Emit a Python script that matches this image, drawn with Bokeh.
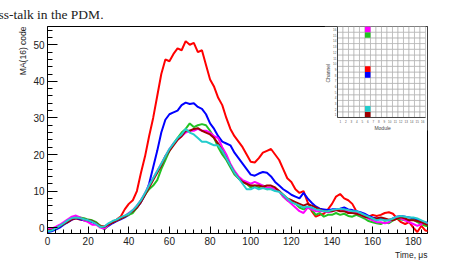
from bokeh.plotting import figure
from bokeh.models import Range1d, SingleIntervalTicker, Label, ColumnDataSource, Title
from bokeh.core.properties import value
from bokeh.embed import file_html
from bokeh.resources import INLINE

time_us = [0, 2, 4, 6, 8, 10, 12, 14, 16, 18,
           20, 22, 24, 26, 28, 30, 32, 34, 36, 38,
           40, 42, 44, 46, 48, 50, 52, 54, 56, 58,
           60, 62, 64, 66, 68, 70, 72, 74, 76, 78,
           80, 82, 84, 86, 88, 90, 92, 94, 96, 98,
           100, 102, 104, 106, 108, 110, 112, 114, 116, 118,
           120, 122, 124, 126, 128, 130, 132, 134, 136, 138,
           140, 142, 144, 146, 148, 150, 152, 154, 156, 158,
           160, 162, 164, 166, 168, 170, 172, 174, 176, 178,
           180, 182, 184, 186, 188]

ch9_red = [-0.5, -0.5, 0.0, 0.5, 1.2, 1.5, 2.2, 2.5, 2.2, 2.0,
           2.0, 1.8, 1.2, 0.5, 0.3, 1.0, 1.5, 2.2, 3.0, 5.0,
           6.5, 7.5, 10.0, 15.0, 19.5, 25.0, 30.0, 36.0, 42.0, 46.0,
           45.5, 47.5, 49.0, 48.5, 51.0, 50.0, 50.5, 48.0, 48.5, 44.5,
           40.5, 38.5, 35.5, 33.5, 30.0, 27.0, 25.0, 23.5, 22.0, 20.0,
           18.0, 17.8, 19.0, 20.5, 21.0, 21.5, 20.0, 18.5, 16.0, 13.5,
           12.5, 10.5, 9.5, 10.0, 7.0, 4.5, 3.0, 3.5, 3.8, 5.0,
           6.5, 8.5, 9.2, 8.0, 7.5, 6.5, 4.5, 3.8, 3.2, 3.0,
           3.5, 3.2, 3.5, 4.0, 4.2, 3.8, 2.5, 1.5, 1.0, 1.5,
           0.0, -1.2, 0.5, -0.8, -1.0]

ch8_blue = [-1.2, -1.0, -0.5, 0.0, 0.8, 1.5, 2.2, 2.6, 2.3, 2.0,
            1.8, 1.5, 1.0, 0.2, -0.2, 0.5, 1.2, 1.8, 2.3, 2.8,
            3.5, 4.5, 5.5, 7.0, 9.0, 12.0, 16.5, 21.0, 26.0, 29.5,
            31.0, 31.5, 32.0, 33.5, 34.2, 33.8, 34.0, 33.0, 32.5, 31.0,
            28.5, 27.0, 25.0, 23.5, 23.0, 22.5, 20.5, 19.0, 17.5, 16.0,
            14.5, 14.2, 14.8, 15.2, 15.0, 14.0, 12.5, 11.5, 10.5, 9.8,
            9.0, 8.5, 8.0, 9.5, 8.0, 6.8, 5.8, 5.2, 5.0, 4.8,
            5.0, 5.0, 5.2, 5.5, 5.0, 4.8, 4.5, 4.2, 3.8, 3.2,
            2.8, 2.5, 2.5, 2.2, 2.0, 2.5, 3.0, 3.2, 3.0, 2.8,
            2.5, 2.2, 1.8, 1.2, 1.5]

ch15_green = [-0.8, -0.5, 0.0, 0.5, 1.0, 1.8, 2.5, 2.8, 2.8, 2.6,
              2.2, 2.0, 1.5, 0.5, -0.5, 0.8, 1.5, 2.0, 2.5, 3.0,
              3.5, 4.0, 5.5, 7.5, 9.0, 10.5, 11.5, 13.0, 16.0, 18.5,
              21.0, 23.0, 24.5, 26.0, 27.0, 28.5, 27.5, 28.0, 28.3, 28.0,
              26.5, 24.5, 22.0, 20.0, 18.5, 16.5, 14.5, 13.5, 12.5, 12.0,
              11.0, 11.5, 11.0, 11.5, 10.5, 10.8, 10.2, 10.0, 8.5, 7.5,
              7.0, 6.5, 5.5, 5.0, 5.5, 5.0, 3.5, 4.0, 3.0, 3.5,
              3.5, 4.0, 3.5, 3.8, 3.2, 3.0, 3.5, 3.0, 2.5, 1.8,
              1.5, 1.2, 1.0, 1.5, 1.2, 2.0, 2.5, 2.2, 2.0, 2.0,
              2.2, 1.5, 1.0, 0.5, 0.3]

ch16_magenta = [-0.5, -0.3, 0.2, 0.8, 1.5, 2.3, 3.0, 3.3, 2.8, 2.0,
                1.5, 0.8, 0.8, 0.0, -0.3, 0.8, 1.5, 2.0, 2.6, 3.2,
                4.0, 4.8, 6.0, 7.5, 9.5, 11.5, 13.5, 15.5, 17.5, 19.5,
                21.5, 23.0, 24.0, 25.0, 26.0, 26.5, 26.5, 27.0, 26.5, 26.5,
                26.0, 25.0, 24.5, 22.0, 20.0, 17.5, 15.5, 14.0, 13.0, 12.5,
                12.0, 12.5, 12.0, 11.5, 11.0, 11.0, 10.5, 10.0, 8.5, 7.5,
                6.5, 5.5, 4.5, 4.0, 5.5, 5.0, 4.5, 4.5, 4.5, 4.2,
                4.5, 4.8, 5.0, 4.8, 4.5, 4.0, 4.0, 3.5, 3.0, 2.5,
                2.0, 1.5, 1.5, 1.2, 1.5, 2.5, 3.0, 2.5, 2.0, 1.5,
                1.0, 0.5, 1.0, 1.5, 1.0]

ch1_darkred = [-0.8, -0.6, -0.2, 0.4, 1.0, 1.6, 2.3, 2.7, 2.5, 2.3,
               2.0, 1.8, 1.2, 0.3, 0.2, 0.8, 1.4, 1.9, 2.5, 3.0,
               3.8, 4.5, 5.5, 7.0, 9.0, 11.0, 13.0, 15.0, 17.0, 19.5,
               21.0, 22.5, 24.0, 25.0, 26.5, 26.5, 27.0, 27.2, 26.5, 26.0,
               25.5, 24.5, 23.0, 21.0, 19.0, 17.0, 15.0, 13.5, 12.5, 12.0,
               11.5, 11.5, 11.5, 11.2, 11.5, 11.5, 11.0, 10.0, 9.0, 8.0,
               7.5, 7.0, 6.5, 6.0, 6.5, 6.0, 5.5, 5.0, 4.5, 4.5,
               4.5, 4.8, 4.5, 4.5, 4.0, 4.0, 3.8, 3.5, 3.0, 2.8,
               2.5, 2.5, 2.8, 2.5, 2.2, 2.0, 2.5, 2.8, 2.5, 2.0,
               2.0, 1.8, 1.5, 1.0, 0.5]

ch2_cyan = [-1.0, -0.8, -0.2, 0.5, 1.2, 2.0, 2.6, 2.8, 2.6, 2.3,
            2.0, 1.6, 1.0, 0.2, 0.3, 1.2, 1.8, 2.2, 2.8, 3.3,
            3.8, 4.8, 6.0, 7.5, 9.5, 11.5, 13.5, 15.5, 17.5, 19.5,
            21.5, 23.0, 24.5, 25.5, 27.0, 26.0, 25.5, 24.5, 23.5, 23.5,
            23.0, 22.5, 22.5, 21.0, 19.0, 17.0, 15.0, 13.5, 12.0, 10.5,
            10.5, 11.0, 10.5, 10.8, 10.5, 10.5, 10.0, 9.8, 9.0, 8.0,
            7.0, 6.5, 6.0, 5.5, 5.8, 5.5, 5.0, 4.8, 4.5, 4.5,
            4.8, 5.0, 5.2, 5.0, 4.8, 4.5, 4.5, 4.0, 3.5, 3.0,
            2.5, 2.0, 2.2, 2.0, 2.0, 2.5, 3.0, 3.2, 3.0, 2.8,
            2.8, 2.5, 2.0, 1.5, 1.0]

# (name, values, colour, module, channel) - module/channel shown in the inset map
series = [
    ("ch9", ch9_red, "#ff0000", 6, 9),
    ("ch8", ch8_blue, "#0000ff", 6, 8),
    ("ch15", ch15_green, "#22c322", 6, 15),
    ("ch16", ch16_magenta, "#ff00ff", 6, 16),
    ("ch1", ch1_darkred, "#a00000", 6, 1),
    ("ch2", ch2_cyan, "#22cccc", 6, 2),
]
modules = list(range(1, 17))
channels = list(range(1, 17))

x_ticks_interval = 20
y_ticks_interval = 10

p = figure(width=474, height=260, title=None,
           x_range=Range1d(0, 187), y_range=Range1d(-1.6, 55),
           output_backend="svg", toolbar_location=None,
           min_border_left=47, min_border_right=47,
           min_border_top=26, min_border_bottom=27,
           background_fill_color="white", border_fill_color="white")
p.extra_x_ranges = {"mod": Range1d(-52.227, 16.864)}
p.extra_y_ranges = {"ch": Range1d(-19.896, 16.5)}

p.xgrid.visible = False
p.ygrid.visible = False
p.outline_line_color = "black"
p.outline_line_width = 1

FONT = "Liberation Sans"
for ax in (p.xaxis[0], p.yaxis[0]):
    ax.axis_line_color = "black"
    ax.major_tick_line_color = "black"
    ax.minor_tick_line_color = "black"
    ax.major_tick_out = 0
    ax.minor_tick_out = 0
    ax.major_label_text_font = FONT
    ax.major_label_text_font_size = "10px"
    ax.major_label_text_color = "#222222"
p.xaxis.ticker = SingleIntervalTicker(interval=x_ticks_interval, num_minor_ticks=5)
p.yaxis.ticker = SingleIntervalTicker(interval=y_ticks_interval, num_minor_ticks=5)
p.xaxis.major_tick_in = 7
p.xaxis.minor_tick_in = 4
p.yaxis.major_tick_in = 10
p.yaxis.minor_tick_in = 5
p.xaxis.major_label_standoff = 3
p.yaxis.major_label_standoff = 3

for name, ys, col, m, c in series:
    src = ColumnDataSource(dict(t=time_us, v=ys))
    p.line("t", "v", source=src, line_color=col, line_width=2)

# inset: module/channel map
p.quad(left=[-1.8], right=[16.86], bottom=[-1.8], top=[16.5],
       fill_color="white", line_color=None, x_range_name="mod", y_range_name="ch")
gx = [m for m in modules for c in channels]
gy = [c for m in modules for c in channels]
p.rect(x=gx, y=gy, width=1, height=1, fill_color="white", line_color="#aaaaaa",
       line_width=0.6, x_range_name="mod", y_range_name="ch")
p.rect(x=[s[3] for s in series], y=[s[4] for s in series], width=1, height=1,
       fill_color=[s[2] for s in series], line_color=None,
       x_range_name="mod", y_range_name="ch")
p.segment(x0=[0.5, 0.5], y0=[0.5, 0.5], x1=[16.5, 0.5], y1=[0.5, 16.5],
          line_color="#444444", line_width=1, x_range_name="mod", y_range_name="ch")
p.text(x=modules, y=[0.1] * 16, text=[str(m) for m in modules],
       text_font=value(FONT), text_font_size="3px", text_color="#555555",
       text_align="center", text_baseline="top", x_range_name="mod", y_range_name="ch")
p.text(x=[0.3] * 16, y=channels, text=[str(c) for c in channels],
       text_font=value(FONT), text_font_size="3px", text_color="#555555",
       text_align="right", text_baseline="middle", x_range_name="mod", y_range_name="ch")
p.add_layout(Label(x=-1.2, y=8.3, text="Channel", angle=1.5708, text_font=FONT,
                   text_font_size="5px", text_color="#444444", text_align="center",
                   text_baseline="middle", x_range_name="mod", y_range_name="ch"))
p.add_layout(Label(x=8.7, y=-1.3, text="Module", text_font=FONT,
                   text_font_size="5px", text_color="#444444", text_align="center",
                   text_baseline="middle", x_range_name="mod", y_range_name="ch"))

# axis titles and page text (in side panels so they are not clipped)
p.add_layout(Title(text="MA(16) code", align="right", text_font=FONT,
                   text_font_size="8.5px", text_color="#222222",
                   text_font_style="normal", standoff=6), "left")
p.add_layout(Title(text="Time, \u03bcs", align="right", text_font=FONT,
                   text_font_size="8.5px", text_color="#222222",
                   text_font_style="normal", standoff=0), "below")
p.add_layout(Title(text="ss-talk in the PDM.", align="left", offset=-49,
                   text_font="Liberation Serif", text_font_size="13.5px",
                   text_color="#222222", text_font_style="normal",
                   standoff=9), "above")

open("out.html", "w").write(file_html(p, INLINE))
